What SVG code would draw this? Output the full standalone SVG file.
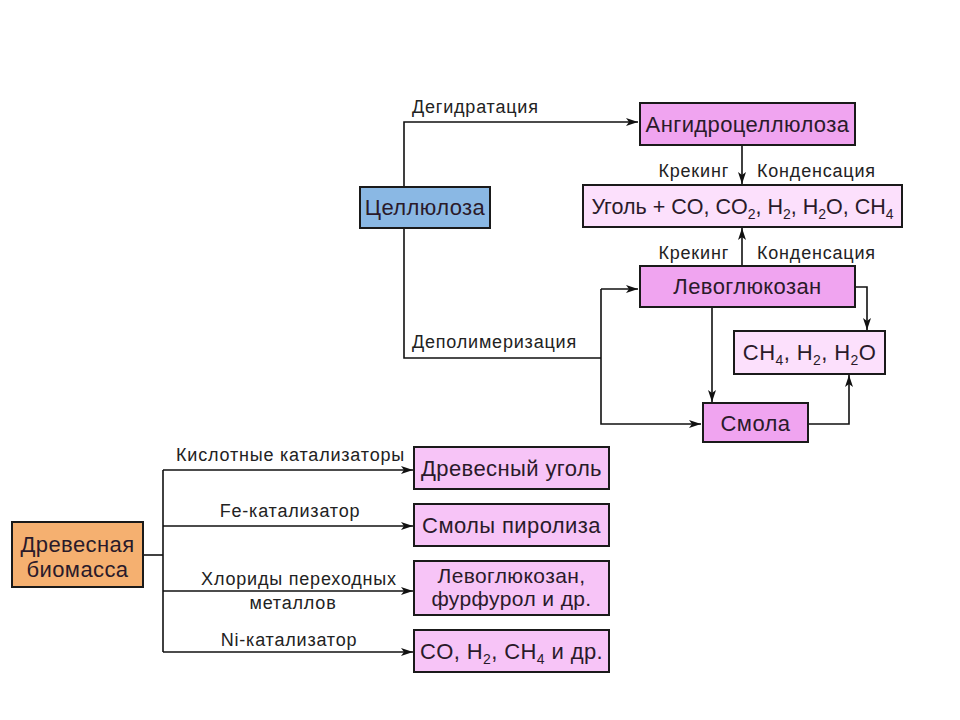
<svg xmlns="http://www.w3.org/2000/svg" width="960" height="720" viewBox="0 0 960 720">
<defs>
<marker id="ah" viewBox="0 0 12 8" refX="12" refY="4" markerWidth="12" markerHeight="8" markerUnits="userSpaceOnUse" orient="auto">
<path d="M0,0 L12,4 L0,8 L3,4 Z" fill="#111"/>
</marker>
</defs>
<style>
.box{stroke:#1a1a1a;stroke-width:2}
.dark{fill:#f0a4f0}
.light{fill:#fce0fc}
.mid{fill:#f7c4f7}
.blue{fill:#8ab8e4}
.orange{fill:#f5b070}
.t{font-family:"Liberation Sans",Arial,sans-serif;font-size:22px;letter-spacing:0.4px;fill:#2a1a2a;text-anchor:middle}
.l{font-family:"Liberation Sans",Arial,sans-serif;font-size:18px;letter-spacing:0.8px;fill:#222}
.c{fill:none;stroke:#111;stroke-width:1.6}
.a{marker-end:url(#ah)}
</style>
<rect width="960" height="720" fill="#fff"/>
<g id="connectors">
<polyline class="c a" points="404,187 404,122 638,122"/>
<polyline class="c" points="404,228 404,358 601,358"/>
<polyline class="c a" points="601,289 601,289 638,289"/>
<polyline class="c a" points="601,289 601,424 701,424"/>
<line class="c a" x1="742" y1="145" x2="742" y2="184"/>
<line class="c a" x1="742" y1="266" x2="742" y2="228"/>
<polyline class="c a" points="855,287 867,287 867,330"/>
<line class="c a" x1="712" y1="307" x2="712" y2="402"/>
<polyline class="c a" points="808,424 849,424 849,375"/>
<line class="c" x1="143" y1="555" x2="163" y2="555"/>
<line class="c" x1="163" y1="470" x2="163" y2="652"/>
<line class="c a" x1="163" y1="470" x2="413" y2="470"/>
<line class="c a" x1="163" y1="526" x2="413" y2="526"/>
<line class="c a" x1="163" y1="591" x2="413" y2="591"/>
<line class="c a" x1="163" y1="652" x2="413" y2="652"/>
<text class="l" x="412" y="113">Дегидратация</text>
<text class="l" x="412" y="348">Деполимеризация</text>
<text class="l" x="729" y="177" text-anchor="end">Крекинг</text>
<text class="l" x="757" y="177">Конденсация</text>
<text class="l" x="729" y="259" text-anchor="end">Крекинг</text>
<text class="l" x="757" y="259">Конденсация</text>
<text class="l" x="405" y="461" text-anchor="end">Кислотные катализаторы</text>
<text class="l" x="290" y="517" text-anchor="middle">Fe-катализатор</text>
<text class="l" x="299" y="585" text-anchor="middle">Хлориды переходных</text>
<text class="l" x="293" y="609" text-anchor="middle">металлов</text>
<text class="l" x="289" y="646" text-anchor="middle">Ni-катализатор</text>
</g>
<g id="cellulose"><rect class="box blue" x="360" y="187" width="130" height="41"/><text class="t" x="425" y="215">Целлюлоза</text></g>
<g id="anhydro"><rect class="box dark" x="640" y="103" width="215" height="42"/><text class="t" x="747.500" y="132">Ангидроцеллюлоза</text></g>
<g id="coal-gas"><rect class="box light" x="583" y="185" width="319" height="42"/><text class="t" x="742.500" y="214" style="font-size:21.5px;letter-spacing:0">Уголь + CO, CO<tspan font-size="14" dy="5">2</tspan><tspan dy="-5">, H</tspan><tspan font-size="14" dy="5">2</tspan><tspan dy="-5">, H</tspan><tspan font-size="14" dy="5">2</tspan><tspan dy="-5">O, CH</tspan><tspan font-size="14" dy="5">4</tspan></text></g>
<g id="levoglucosan"><rect class="box dark" x="640" y="266" width="215" height="41"/><text class="t" x="747.500" y="294">Левоглюкозан</text></g>
<g id="ch4"><rect class="box light" x="734" y="331" width="151" height="43"/><text class="t" x="809.500" y="360">CH<tspan font-size="14" dy="5">4</tspan><tspan dy="-5">, H</tspan><tspan font-size="14" dy="5">2</tspan><tspan dy="-5">, H</tspan><tspan font-size="14" dy="5">2</tspan><tspan dy="-5">O</tspan></text></g>
<g id="tar"><rect class="box dark" x="703" y="403" width="105" height="39"/><text class="t" x="755.500" y="431">Смола</text></g>
<g id="biomass"><rect class="box orange" x="12" y="522" width="131" height="65"/><text class="t" x="77.500" y="552">Древесная</text><text class="t" x="77.500" y="577">биомасса</text></g>
<g id="charcoal"><rect class="box mid" x="414" y="447" width="195" height="42"/><text class="t" x="511.500" y="476">Древесный уголь</text></g>
<g id="pyrolysis-tar"><rect class="box mid" x="414" y="504" width="195" height="42"/><text class="t" x="511.500" y="533">Смолы пиролиза</text></g>
<g id="levo-furfural"><rect class="box mid" x="414" y="561" width="195" height="54"/><text class="t" x="511.500" y="583" style="font-size:21px">Левоглюкозан,</text><text class="t" x="511.500" y="606" style="font-size:21px">фурфурол и др.</text></g>
<g id="gases"><rect class="box mid" x="414" y="630" width="195" height="42"/><text class="t" x="511.500" y="659">CO, H<tspan font-size="14" dy="5">2</tspan><tspan dy="-5">, CH</tspan><tspan font-size="14" dy="5">4</tspan><tspan dy="-5"> и др.</tspan></text></g>
</svg>
